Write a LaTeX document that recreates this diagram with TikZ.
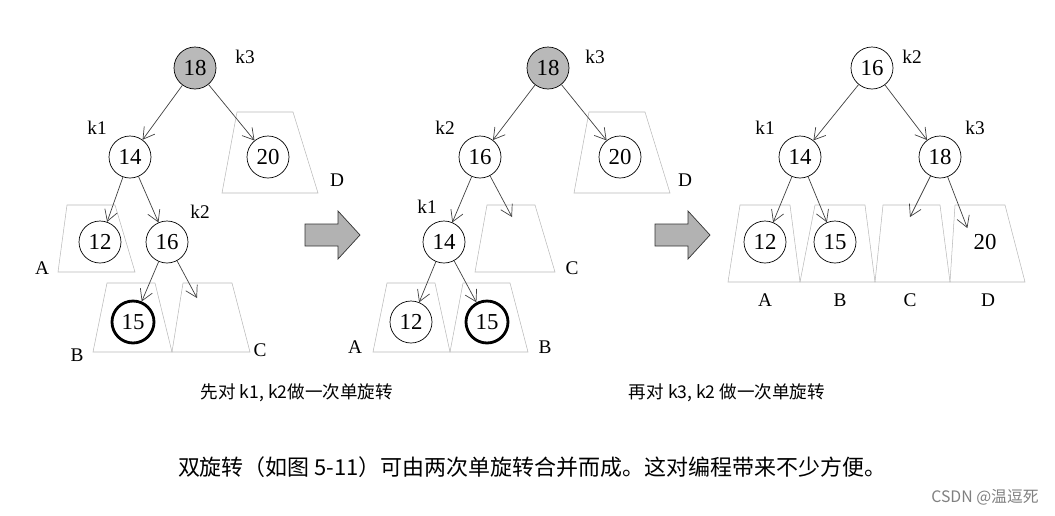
\documentclass[tikz,border=0pt]{standalone}
\usepackage{fontspec}
\setmainfont{Liberation Serif}
\newfontfamily\cjk{Noto Sans CJK SC}
\usetikzlibrary{arrows.meta}

\begin{document}
\begin{tikzpicture}[
        x=0.02cm, y=-0.02cm,
        key/.style={circle, draw, thin, minimum size=0.84cm, inner sep=0pt, font=\fontsize{13}{15}\selectfont},
        shaded/.style={key, fill=gray!55},
        marked/.style={key, line width=1.6pt},
        tag/.style={font=\fontsize{11}{13}\selectfont},
        edge/.style={-{Straight Barb[length=2.2mm,width=2.6mm]}, draw=black!75},
        subtree/.style={draw=gray!55, line width=0.3pt},
        bigarrow/.style={fill=gray!60, draw=gray!40!black, thin},
        caption/.style={font=\cjk\fontsize{10}{12}\selectfont}
    ]
    \useasboundingbox (0,0) rectangle (1055,515);

    % --- Tree 1 ---
    \draw[subtree] (237,112) -- (293,112) -- (318,193) -- (222,193) -- cycle;
    \draw[subtree] (67,205) -- (115,205) -- (135,272) -- (58,272) -- cycle;
    \draw[subtree] (107,283) -- (155,283) -- (172,352) -- (93,352) -- cycle;
    \draw[subtree] (183,283) -- (232,283) -- (250,352) -- (172,352) -- cycle;
    \node[shaded] (aR) at (195,68) {18};
    \node[key] (aL) at (130,157) {14};
    \node[key] (aD) at (268,157) {20};
    \node[key] (aA) at (100,242) {12};
    \node[key] (aM) at (167,242) {16};
    \node[marked] (aB) at (133,322) {15};
    \coordinate (aC) at (197,298);
    \node[tag] (aK3) at (245,57) {k3};
    \node[tag] (aK1) at (97,128) {k1};
    \node[tag] (aK2) at (200,212) {k2};
    \node[tag] (aLA) at (42,268) {A};
    \node[tag] (aLB) at (77,355) {B};
    \node[tag] (aLC) at (260,350) {C};
    \node[tag] (aLD) at (337,180) {D};
    \draw[edge] (aR) -- (aL);
    \draw[edge] (aR) -- (aD);
    \draw[edge] (aL) -- (aA);
    \draw[edge] (aL) -- (aM);
    \draw[edge] (aM) -- (aB);
    \draw[edge] (aM) -- (aC);

    \draw[bigarrow] (305,224) -- (338,224) -- (338,211) -- (360,235) -- (338,259) -- (338,246) -- (305,246) -- cycle;

    % --- Tree 2 ---
    \draw[subtree] (589,112) -- (645,112) -- (670,193) -- (574,193) -- cycle;
    \draw[subtree] (487,205) -- (535,205) -- (555,272) -- (475,272) -- cycle;
    \draw[subtree] (387,283) -- (435,283) -- (450,352) -- (373,352) -- cycle;
    \draw[subtree] (463,283) -- (510,283) -- (528,352) -- (450,352) -- cycle;
    \node[shaded] (bR) at (548,68) {18};
    \node[key] (bM) at (480,157) {16};
    \node[key] (bD) at (620,157) {20};
    \node[key] (bL) at (444,242) {14};
    \node[key] (bA) at (411,322) {12};
    \node[marked] (bB) at (487,322) {15};
    \coordinate (bC) at (512,217);
    \node[tag] (bK3) at (595,57) {k3};
    \node[tag] (bK2) at (445,128) {k2};
    \node[tag] (bK1) at (427,207) {k1};
    \node[tag] (bLA) at (355,347) {A};
    \node[tag] (bLB) at (545,347) {B};
    \node[tag] (bLC) at (572,268) {C};
    \node[tag] (bLD) at (685,180) {D};
    \draw[edge] (bR) -- (bM);
    \draw[edge] (bR) -- (bD);
    \draw[edge] (bM) -- (bL);
    \draw[edge] (bM) -- (bC);
    \draw[edge] (bL) -- (bA);
    \draw[edge] (bL) -- (bB);

    \draw[bigarrow] (655,224) -- (688,224) -- (688,211) -- (710,235) -- (688,259) -- (688,246) -- (655,246) -- cycle;

    % --- Tree 3 ---
    \draw[subtree] (740,205) -- (790,205) -- (800,282) -- (728,282) -- cycle;
    \draw[subtree] (815,205) -- (865,205) -- (875,282) -- (800,282) -- cycle;
    \draw[subtree] (883,205) -- (940,205) -- (950,282) -- (875,282) -- cycle;
    \draw[subtree] (955,205) -- (1005,205) -- (1025,282) -- (950,282) -- cycle;
    \node[key] (cR) at (872,68) {16};
    \node[key] (cL) at (800,157) {14};
    \node[key] (cM) at (940,157) {18};
    \node[key] (cA) at (765,242) {12};
    \node[key] (cB) at (835,242) {15};
    \node[font=\fontsize{13}{15}\selectfont] (cD) at (985,242) {20};
    \coordinate (cC) at (910,217);
    \node[tag] (cK2) at (912,57) {k2};
    \node[tag] (cK1) at (765,128) {k1};
    \node[tag] (cK3) at (975,128) {k3};
    \node[tag] (cLA) at (765,300) {A};
    \node[tag] (cLB) at (840,300) {B};
    \node[tag] (cLC) at (910,300) {C};
    \node[tag] (cLD) at (988,300) {D};
    \draw[edge] (cR) -- (cL);
    \draw[edge] (cR) -- (cM);
    \draw[edge] (cL) -- (cA);
    \draw[edge] (cL) -- (cB);
    \draw[edge] (cM) -- (cC);
    \draw[edge] (cM) -- (cD.north west);

    % --- Captions ---
    \node[caption] (capA) at (297,393) {先对 k1, k2做一次单旋转};
    \node[caption] (capB) at (727,393) {再对 k3, k2 做一次单旋转};
    \node[font=\cjk\fontsize{12.5}{15}\selectfont] (capC) at (532,467) {双旋转（如图 5-11）可由两次单旋转合并而成。这对编程带来不少方便。};
    \node[font=\cjk\fontsize{9}{11}\selectfont, text=gray] (mark) at (985,497) {CSDN @温逗死};
\end{tikzpicture}
\end{document}
